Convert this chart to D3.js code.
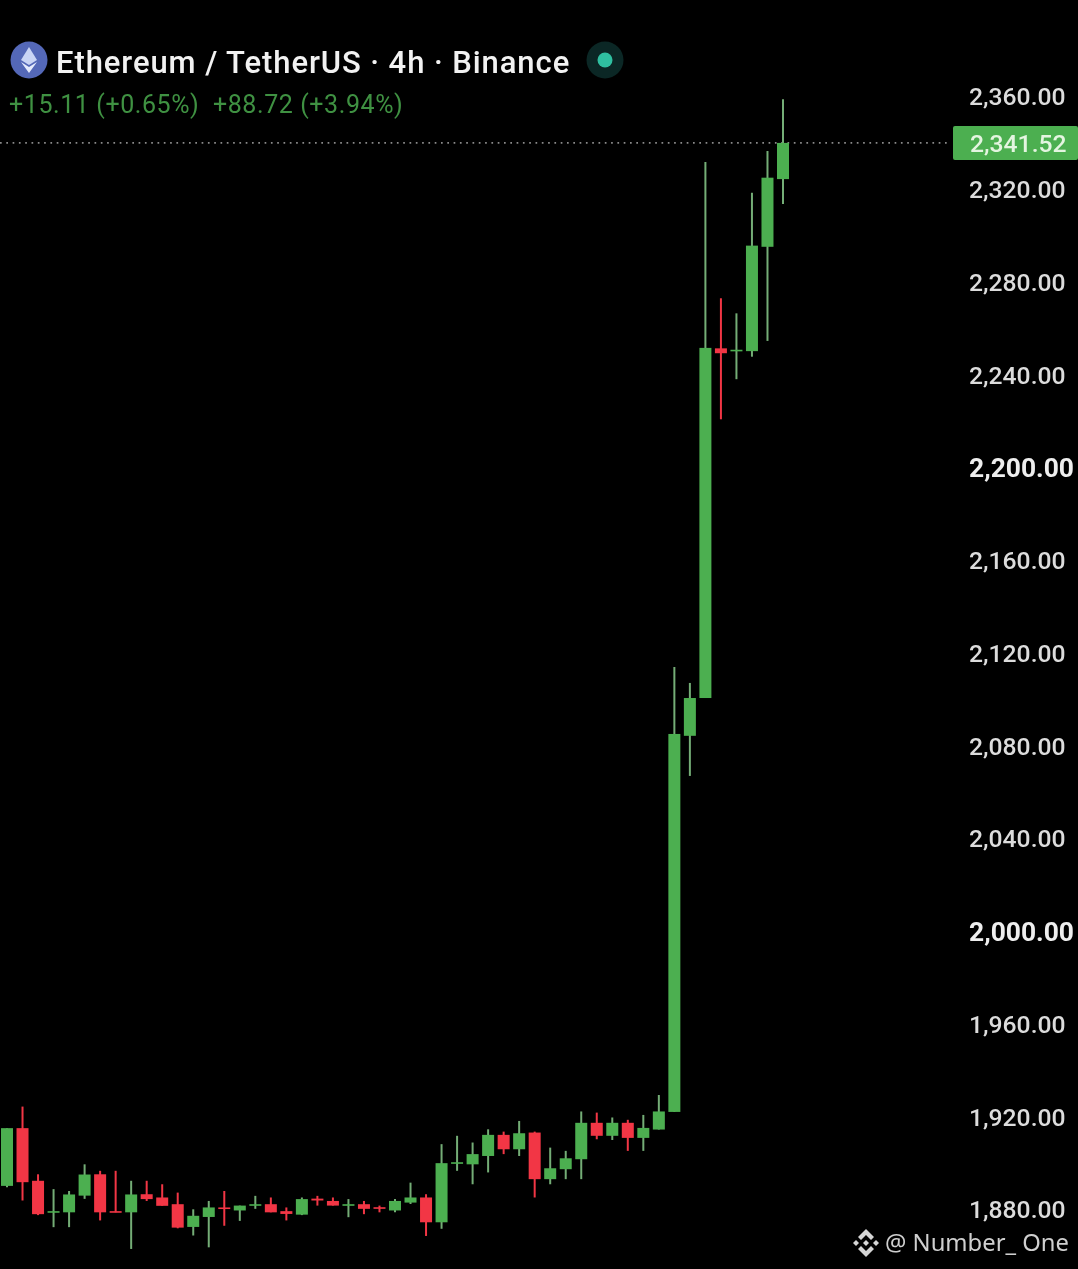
<!DOCTYPE html>
<html lang="en">
<head>
	<meta charset="UTF-8">
	<title>ETH/USDT 4h</title>
	<script src="https://d3js.org/d3.v7.min.js"></script>
	<style>
		html, body { margin: 0; padding: 0; background: #000; }
		svg { display: block; filter: blur(0.5px); }
		text { font-family: Roboto, "Noto Sans", sans-serif; }
		.wick { stroke-width: 2; }
		.axis path, .axis line { display: none; }
		.axis text { font-size: 24.7px; fill: #dcdcdc; font-weight: 500; }
	</style>
</head>
<body>
	<svg id="svg"></svg>
	<script>
		var opens = [1890.4, 1915.3, 1892.6, 1879.0, 1879.0, 1886.2, 1895.4, 1879.5, 1879.0, 1886.8,
			1885.4, 1882.5, 1872.7, 1877.0, 1881.1, 1879.8, 1882.2, 1882.5, 1879.5, 1878.0,
			1884.9, 1883.9, 1882.2, 1882.5, 1881.2, 1879.8, 1883.2, 1885.4, 1874.7, 1900.2,
			1899.7, 1903.3, 1912.4, 1906.2, 1913.4, 1893.3, 1897.6, 1901.9, 1917.6, 1912.0,
			1917.6, 1911.1, 1914.7, 1922.3, 2084.5, 2100.8, 2251.6, 2250.4, 2250.4, 2295.4, 2324.6];
		var closes = [1915.3, 1892.0, 1878.2, 1879.5, 1886.7, 1895.3, 1879.0, 1879.0, 1886.7, 1884.7,
			1881.8, 1872.4, 1877.5, 1881.1, 1880.6, 1881.9, 1882.5, 1879.0, 1878.3, 1884.7,
			1884.1, 1881.9, 1882.5, 1880.5, 1880.5, 1883.9, 1885.4, 1874.7, 1900.2, 1900.6,
			1904.1, 1912.4, 1906.2, 1913.1, 1893.3, 1898.0, 1902.3, 1917.6, 1912.0, 1917.6,
			1911.1, 1915.4, 1922.5, 2085.3, 2100.8, 2251.8, 2249.5, 2251.0, 2295.9, 2325.2, 2340.2];
		var highs = [1915.3, 1924.6, 1895.4, 1889.0, 1888.2, 1899.7, 1896.9, 1896.9, 1892.6, 1892.6,
			1891.1, 1887.5, 1880.3, 1883.9, 1888.2, 1881.9, 1886.1, 1885.4, 1881.1, 1885.4,
			1886.1, 1885.4, 1884.7, 1883.9, 1881.9, 1884.7, 1891.8, 1886.8, 1908.4, 1912.0,
			1909.1, 1914.8, 1913.8, 1918.4, 1913.8, 1906.9, 1905.5, 1922.5, 1922.0, 1919.9,
			1918.9, 1921.0, 1929.6, 2114.2, 2107.3, 2332.0, 2273.2, 2266.7, 2318.7, 2336.7, 2359.0];
		var lows = [1889.8, 1884.1, 1877.8, 1872.6, 1872.6, 1884.8, 1875.5, 1879.0, 1863.2, 1883.9,
			1881.8, 1872.1, 1869.0, 1863.9, 1873.2, 1875.3, 1880.5, 1879.0, 1875.5, 1877.8,
			1881.9, 1881.9, 1876.9, 1878.2, 1879.0, 1879.0, 1882.6, 1868.8, 1871.9, 1896.9,
			1891.1, 1896.2, 1904.1, 1903.3, 1885.4, 1891.1, 1893.3, 1893.3, 1910.5, 1910.2,
			1905.5, 1905.5, 1914.7, 1922.3, 2067.2, 2100.8, 2221.0, 2238.3, 2248.0, 2254.8, 2313.9];
		var priceTicks = [1880, 1920, 1960, 2000, 2040, 2080, 2120, 2160, 2200, 2240, 2280, 2320, 2360];
		var boldTicks = [2000, 2200];
		var lastPrice = "2,341.52";
		var titleText = "Ethereum / TetherUS · 4h · Binance";
		var changeText = "+15.11 (+0.65%)  +88.72 (+3.94%)";

		var w = 1078,
			h = 1269,
			up = "#4caf50",
			down = "#f23645",
			upWick = "#74ad76",
			bodyWidth = 12;

		var svg = d3.select("#svg").attr("width", w).attr("height", h);
		svg.append("rect").attr("width", w).attr("height", h).attr("fill", "#000");

		var x = d3.scaleLinear().domain([0, opens.length - 1]).range([7, 783]);
		var y = d3.scaleLinear().domain([1880, 2360]).range([1210, 97]);

		// dotted last price line goes under the candles
		svg.append("line")
			.attr("x1", 0)
			.attr("x2", 950)
			.attr("y1", y(closes[closes.length - 1]))
			.attr("y2", y(closes[closes.length - 1]))
			.attr("stroke", "#8a8a8a")
			.attr("stroke-width", 1.6)
			.attr("stroke-dasharray", "1.7 4.6");

		var candle = svg.selectAll(".candle")
			.data(d3.range(opens.length))
			.enter()
			.append("g")
			.attr("class", "candle");

		candle.append("line")
			.attr("class", "wick")
			.attr("x1", function(i) { return x(i); })
			.attr("x2", function(i) { return x(i); })
			.attr("y1", function(i) { return y(highs[i]); })
			.attr("y2", function(i) { return y(lows[i]); })
			.attr("stroke", function(i) { return closes[i] >= opens[i] ? upWick : down; });

		candle.append("rect")
			.attr("x", function(i) { return x(i) - bodyWidth / 2; })
			.attr("width", bodyWidth)
			.attr("y", function(i) { return y(Math.max(opens[i], closes[i])); })
			.attr("height", function(i) { return Math.max(1.6, Math.abs(y(opens[i]) - y(closes[i]))); })
			.attr("fill", function(i) { return closes[i] >= opens[i] ? up : down; });

		// price axis
		var axis = svg.append("g")
			.attr("class", "axis")
			.attr("transform", "translate(969,0)")
			.call(d3.axisRight(y).tickValues(priceTicks).tickSize(0).tickPadding(0).tickFormat(d3.format(",.2f")));
		axis.selectAll("text")
			.filter(function(d) { return boldTicks.indexOf(d) >= 0; })
			.style("font-weight", 700)
			.style("font-size", "26.4px")
			.style("fill", "#eee");

		// last price tag
		var tagY = y(closes[closes.length - 1]);
		svg.append("rect")
			.attr("x", 953)
			.attr("y", tagY - 17)
			.attr("width", 125)
			.attr("height", 34)
			.attr("rx", 2)
			.attr("fill", up);
		svg.append("text")
			.attr("x", 970)
			.attr("y", tagY)
			.attr("dy", "0.36em")
			.attr("font-size", 24.7)
			.attr("font-weight", 500)
			.attr("fill", "#e4f5e0")
			.text(lastPrice);

		// header
		svg.append("circle").attr("cx", 29).attr("cy", 60).attr("r", 18.5).attr("fill", "#5468b8");
		svg.append("path").attr("d", "M29,47 L37,60 L29,65 L21,60 Z").attr("fill", "#c9d4f5");
		svg.append("path").attr("d", "M21,62 L29,67 L37,62 L29,73 Z").attr("fill", "#e4eafc");
		svg.append("text")
			.attr("x", 56)
			.attr("y", 73)
			.attr("font-size", 31)
			.attr("font-weight", 500)
			.attr("letter-spacing", 0.92)
			.attr("fill", "#f2f2f2")
			.text(titleText);
		svg.append("circle").attr("cx", 605).attr("cy", 60).attr("r", 18.5).attr("fill", "#0b2725");
		svg.append("circle").attr("cx", 605).attr("cy", 60).attr("r", 7.5).attr("fill", "#2fbfa0");
		svg.append("text")
			.attr("x", 9)
			.attr("y", 113)
			.attr("font-size", 25)
			.attr("letter-spacing", 0.58)
			.attr("fill", "#3f9142")
			.style("white-space", "pre")
			.text(changeText);

		// watermark
		var logo = svg.append("g").attr("transform", "translate(866,1243)").attr("fill", "#d5d5d5");
		logo.append("path").attr("d", "M0,-14 L8,-6 L5,-3 L0,-8 L-5,-3 L-8,-6 Z");
		logo.append("path").attr("d", "M0,14 L8,6 L5,3 L0,8 L-5,3 L-8,6 Z");
		logo.append("path").attr("d", "M-13,0 L-10,-3 L-7,0 L-10,3 Z");
		logo.append("path").attr("d", "M13,0 L10,-3 L7,0 L10,3 Z");
		logo.append("path").attr("d", "M0,-3 L3,0 L0,3 L-3,0 Z");
		svg.append("text")
			.attr("x", 885)
			.attr("y", 1251)
			.style("font-family", "'Noto Sans'")
			.attr("font-size", 23.8)
			.attr("fill", "#cfcfcf")
			.text("@ Number_ One");
	</script>
</body>
</html>
